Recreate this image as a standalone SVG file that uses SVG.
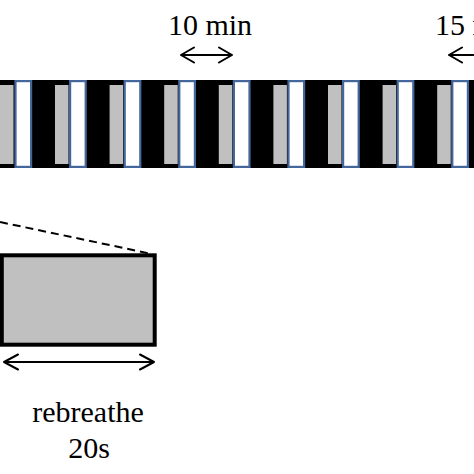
<svg xmlns="http://www.w3.org/2000/svg" width="474" height="474" viewBox="0 0 474 474">
<style>
.lbl{font-family:"Liberation Serif","Times New Roman",serif;font-size:30px;fill:#000}
.g{fill:#c0c0c0}
.w{fill:#fff;stroke:#44679b;stroke-width:2.2}
.arr{fill:none;stroke:#000;stroke-width:2;stroke-linecap:round;stroke-linejoin:round}
</style>
<rect width="474" height="474" fill="#fff"/>
<g id="timeline">
<rect x="0" y="80" width="474" height="88" fill="#000"/>
<rect class="g" x="0" y="85" width="13.5" height="79"/>
<rect class="w" x="15.5" y="81.1" width="15.6" height="85.8"/>
<rect class="g" x="55" y="85" width="13.5" height="79"/>
<rect class="w" x="70.1" y="81.1" width="15.6" height="85.8"/>
<rect class="g" x="109.6" y="85" width="13.5" height="79"/>
<rect class="w" x="124.7" y="81.1" width="15.6" height="85.8"/>
<rect class="g" x="164.2" y="85" width="13.5" height="79"/>
<rect class="w" x="179.3" y="81.1" width="15.6" height="85.8"/>
<rect class="g" x="218.8" y="85" width="13.5" height="79"/>
<rect class="w" x="233.9" y="81.1" width="15.6" height="85.8"/>
<rect class="g" x="273.4" y="85" width="13.5" height="79"/>
<rect class="w" x="288.5" y="81.1" width="15.6" height="85.8"/>
<rect class="g" x="328" y="85" width="13.5" height="79"/>
<rect class="w" x="343.1" y="81.1" width="15.6" height="85.8"/>
<rect class="g" x="382.6" y="85" width="13.5" height="79"/>
<rect class="w" x="397.7" y="81.1" width="15.6" height="85.8"/>
<rect class="g" x="437.2" y="85" width="13.5" height="79"/>
<rect class="w" x="452.3" y="81.1" width="15.6" height="85.8"/>
</g>
<g id="label-10min"><text class="lbl" x="210" y="35" text-anchor="middle">10 min</text></g>
<g id="label-15min"><text class="lbl" x="435" y="35">15 min</text></g>
<g id="rebreathe-box">
<rect x="1.8" y="255.3" width="152.9" height="89.4" fill="#c0c0c0" stroke="#000" stroke-width="4"/>
</g>
<g id="label-rebreathe">
<text class="lbl" x="88" y="422" text-anchor="middle">rebreathe</text>
<text class="lbl" x="89" y="458" text-anchor="middle">20s</text>
</g>
<g id="connectors">
<path class="arr" d="M181 55H232M194 47.5L181 55L194 62.5M219 47.5L232 55L219 62.5"/>
<path class="arr" d="M449 55H480M462 47.5L449 55L462 62.5"/>
<path class="arr" d="M4 362H154M18 354.5L4 362L18 369.5M140 354.5L154 362L140 369.5"/>
<line x1="0" y1="222" x2="152" y2="254" stroke="#000" stroke-width="2" stroke-dasharray="8 5"/>
</g>
</svg>
